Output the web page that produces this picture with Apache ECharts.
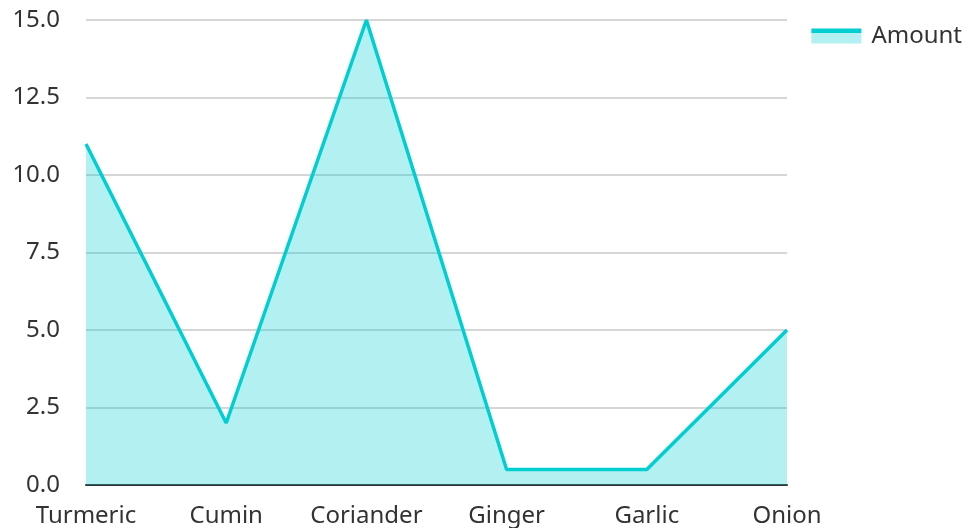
<!DOCTYPE html>
<html><head><meta charset="utf-8">
<script src="https://cdn.jsdelivr.net/npm/echarts@6/dist/echarts.min.js"></script>
<style>html,body{margin:0;padding:0;background:#fff}#c{width:969px;height:528px}</style>
</head><body><div id="c"></div>
<script>
const categories = ['Turmeric', 'Cumin', 'Coriander', 'Ginger', 'Garlic', 'Onion'];
const amounts = [11, 2, 15, 0.5, 0.5, 5];
const seriesName = 'Amount';
const chart = echarts.init(document.getElementById('c'));
const font = '"Noto Sans", "Open Sans", sans-serif';
chart.setOption({
  animation: false,
  textStyle: { fontFamily: font },
  legend: {
    data: [{ name: seriesName, icon: 'rect' }], right: 2, top: 19, itemWidth: 50, itemHeight: 15,
    itemStyle: {
      color: {
        type: 'linear', x: 0, y: 0, x2: 0, y2: 1,
        colorStops: [
          { offset: 0, color: '#00CED1' }, { offset: 0.27, color: '#00CED1' },
          { offset: 0.27, color: '#b3f0f1' }, { offset: 1, color: '#b3f0f1' }
        ]
      },
      borderWidth: 0
    },
    lineStyle: { width: 0, opacity: 0 },
    textStyle: { fontSize: 24, color: '#333', fontFamily: font, padding: [0, 0, 6, 5] }
  },
  grid: { left: 86, right: 182, top: 20, bottom: 42, containLabel: false },
  xAxis: {
    type: 'category', data: categories, boundaryGap: false,
    axisLine: { lineStyle: { color: '#333', width: 2 } },
    axisTick: { show: false },
    axisLabel: { interval: 0, fontSize: 24, color: '#333', margin: 19, fontFamily: font }
  },
  yAxis: {
    type: 'value', min: 0, max: 15, interval: 2.5,
    axisLabel: { fontSize: 24, color: '#333', margin: 26, fontFamily: font, formatter: v => v.toFixed(1) },
    splitLine: { lineStyle: { color: '#c8c8c8', width: 1.5 } },
    axisLine: { show: false }, axisTick: { show: false }
  },
  series: [{
    name: seriesName, type: 'line', data: amounts, symbol: 'none',
    lineStyle: { color: '#00CED1', width: 3.5 },
    itemStyle: { color: '#00CED1' },
    areaStyle: { color: '#00CED1', opacity: 0.3 }
  }]
});
</script></body></html>
